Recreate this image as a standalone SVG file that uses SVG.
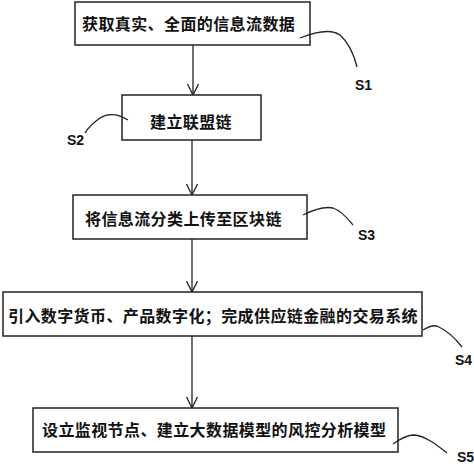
<svg xmlns="http://www.w3.org/2000/svg" width="474" height="464" viewBox="0 0 474 464">
<style>
.box{fill:#fff;stroke:#222;stroke-width:1.5}
.t{font-family:"Noto Sans CJK SC","Noto Sans",sans-serif;font-size:16px;font-weight:bold;letter-spacing:0.4px;fill:#111}
.lbl{font-family:"Liberation Sans",Arial,sans-serif;font-size:14px;font-weight:bold;fill:#111}
.ln{fill:none;stroke:#222;stroke-width:1.3}
</style>
<defs>
<marker id="v" viewBox="0 0 12 12" refX="11" refY="6" markerWidth="12" markerHeight="12" markerUnits="userSpaceOnUse" orient="auto">
<path d="M0,0.5 L11,6 L0,11.5" fill="none" stroke="#222" stroke-width="1.3"/>
</marker>
</defs>
<rect width="474" height="464" fill="#fff"/>
<g id="connectors">
<line class="ln" x1="193" y1="45" x2="193" y2="95" marker-end="url(#v)"/>
<line class="ln" x1="192" y1="140" x2="192" y2="195" marker-end="url(#v)"/>
<line class="ln" x1="192" y1="239" x2="192" y2="292" marker-end="url(#v)"/>
<line class="ln" x1="192" y1="336" x2="192" y2="408" marker-end="url(#v)"/>
</g>
<g id="s1">
<rect class="box" x="75" y="2" width="235" height="43"/>
<text class="t" x="82" y="30">获取真实、全面的信息流数据</text>
<path class="ln" d="M300,38 C315,32 330,28 340,35 C348,42 354,55 357,67"/>
<text class="lbl" x="355" y="90">S1</text>
</g>
<g id="s2">
<rect class="box" x="122" y="95" width="139" height="45"/>
<text class="t" x="150" y="128">建立联盟链</text>
<path class="ln" d="M128,120 C118,114 108,113 100,118 C93,123 88,128 85,133"/>
<text class="lbl" x="67" y="145">S2</text>
</g>
<g id="s3">
<rect class="box" x="73" y="195" width="234" height="44"/>
<text class="t" x="85" y="225">将信息流分类上传至区块链</text>
<path class="ln" d="M303,215 C313,210 324,206 333,208 C342,211 348,219 353,225"/>
<text class="lbl" x="358" y="240">S3</text>
</g>
<g id="s4">
<rect class="box" x="3" y="292" width="419" height="44"/>
<text class="t" x="8" y="322">引入数字货币、产品数字化；完成供应链金融的交易系统</text>
<path class="ln" d="M423,330 C428,327 433,325 437,326 C446,330 455,338 462,347"/>
<text class="lbl" x="455" y="365">S4</text>
</g>
<g id="s5">
<rect class="box" x="33" y="408" width="365" height="44"/>
<text class="t" x="42" y="436">设立监视节点、建立大数据模型的风控分析模型</text>
<path class="ln" d="M393,444 C400,439 407,435 414,435 C426,436 438,446 447,453"/>
<text class="lbl" x="457" y="462">S5</text>
</g>
</svg>
